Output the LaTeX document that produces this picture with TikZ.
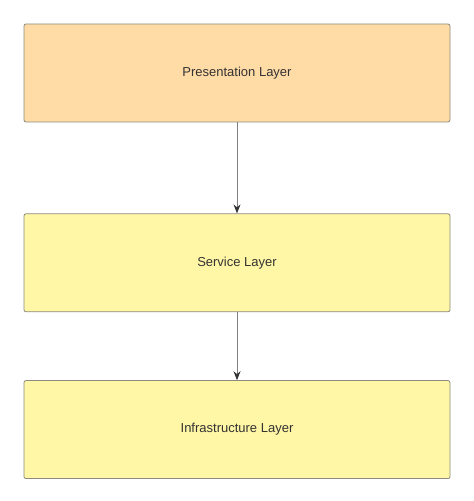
\documentclass[tikz,border=0pt]{standalone}
\usepackage{fontspec}
\setmainfont{Liberation Sans}
\usetikzlibrary{positioning, arrows.meta}
\definecolor{presfill}{HTML}{FFDBA6}
\definecolor{layerfill}{HTML}{FFF6A6}
\definecolor{edgegray}{HTML}{8C8A7E}
\tikzset{
>={Stealth[length=9pt, width=7pt, color=black!80]}, % arrow heads
layer/.style={draw=edgegray, line width=0.8pt, rounded corners=2pt, minimum width=426pt, minimum height=98pt, font=\fontsize{13}{16}\selectfont, text=black!80}, % every layer box
link/.style={->, draw=gray, line width=0.9pt}, % connectors between layers
}

\begin{document}
\begin{tikzpicture}
        \useasboundingbox (0pt,0pt) rectangle (474pt,501pt);

        \node[layer, fill=presfill] (pres) at (237pt,428pt) {Presentation Layer};
        \node[layer, fill=layerfill, below=91pt of pres] (serv) {Service Layer};
        \node[layer, fill=layerfill, below=68pt of serv] (infra) {Infrastructure Layer};

        \draw[link] (pres) -- (serv);
        \draw[link] (serv) -- (infra);
    \end{tikzpicture}
\end{document}
